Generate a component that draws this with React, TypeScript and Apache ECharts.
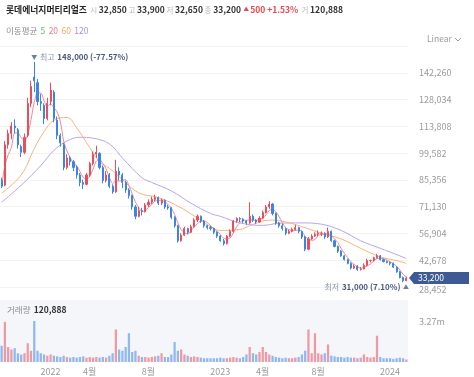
import React, { useEffect, useRef } from 'react';
import * as echarts from 'echarts';

// Weekly OHLC (KRW), first week starting 2021-09-20
const openP = [85000,82500,104000,110000,114000,112000,103000,100000,109000,126000,
140000,137000,127000,125000,118000,127000,132000,117000,109000,104000,
92000,97000,95000,92000,88000,84000,83000,88000,94000,99000,
99500,92000,85000,88000,82000,79000,90000,88000,84000,80000,
77000,71000,66000,69000,68500,72000,73500,75000,76000,73000,
74500,71000,70500,65500,61000,53000,56000,59500,57500,60500,
64000,66000,63500,61000,60000,59500,57500,55500,53000,51500,
55500,58000,63500,64800,64500,63500,62500,66000,64000,63000,
65000,68000,71000,72500,67500,62500,61000,59500,57000,58000,
59000,60000,58000,55000,48500,54000,55500,56500,57000,57000,
55000,58000,53000,50000,47500,45000,43000,41000,38500,39500,
37800,38000,40000,42500,42500,44000,45000,43000,42000,41500,
41000,39000,36500,33500,31800];
const highP = [86500,106000,112000,116000,117500,113000,104000,110000,129000,138000,
148000,139000,131000,126000,129000,137000,133000,119000,110000,105000,
99000,98000,96000,93000,89000,85500,89000,95000,100500,103500,
100000,93000,90000,89000,83000,96000,92000,89000,85000,81000,
77500,72000,71000,70500,73000,75000,76500,77500,76500,75500,
75000,72000,71000,66000,61500,57000,60500,60000,61500,65000,
67000,66500,64000,61500,61000,60000,58000,56000,54000,56000,
59000,64000,65500,65500,65000,64000,73500,67000,64500,66000,
69000,72000,74000,73000,68000,63000,62000,60000,59000,60000,
61500,60500,58500,55500,55000,56500,57500,58500,58000,57500,
60000,58500,53500,50500,48000,45500,43500,41500,40500,40000,
39000,41000,43500,43000,44500,46000,45500,43500,42500,42000,
41500,39500,37000,34000,33900];
const lowP = [81000,82000,102000,107000,110000,102000,97500,99000,108000,124000,
132000,125000,122000,115000,117000,125000,116000,107000,103000,90500,
91000,93000,90000,86000,82000,80500,82500,87000,93000,97000,
91000,83500,84000,81000,78000,78500,85000,81000,78500,75500,
69500,64500,65500,66500,68000,71000,72500,74000,72000,72000,
70000,69500,64500,60000,52000,52500,55500,56500,57000,60000,
63000,62500,60000,59000,58500,56500,54500,52500,50500,51000,
55000,57500,62500,63000,62500,61500,62000,63000,62000,62500,
64500,67500,70000,66500,61500,60000,58500,56000,56500,57500,
58500,57000,54000,47500,48000,53500,55000,55500,55500,54000,
54500,52500,49500,46500,44500,42500,40500,37800,38000,37000,
37200,37800,39500,41500,42000,43500,42500,41500,41000,40000,
38500,36000,33000,31000,31500];
const closeP = [82000,104000,110000,114000,113000,104000,100000,108000,126000,135000,
138000,127000,126000,118000,126000,133000,118000,109000,105000,92000,
97000,95000,92000,88000,84000,83000,88000,94000,99000,100000,
92000,85000,88000,82000,79000,90000,88000,84000,80000,77000,
71000,66000,69000,68500,72000,73500,75000,76000,73000,74500,
71000,70500,65500,61000,53000,56000,59500,57500,60500,64000,
66000,63500,61000,60000,59500,57500,55500,53000,51500,55500,
58000,63500,64800,64500,63500,62500,66000,64000,63000,65000,
68000,71000,72500,67500,62500,61000,59500,57000,58000,59000,
60000,58000,55000,48500,54000,55500,56500,57000,57000,55000,
58000,53000,50000,47500,45000,43000,41000,38500,39500,37800,
38000,40000,42500,42500,44000,45000,43000,42000,41500,41000,
39000,36500,33500,31800,33200];
const volumeV = [1300000,3200000,1200000,1000000,1100000,700000,600000,700000,1500000,900000,
3270000,900000,700000,600000,500000,600000,500000,450000,400000,500000,
400000,350000,400000,350000,400000,450000,350000,400000,350000,400000,
350000,400000,350000,500000,700000,2600000,1000000,900000,1200000,2300000,
800000,900000,500000,400000,400000,350000,400000,450000,500000,700000,
400000,400000,600000,1600000,900000,1000000,600000,500000,400000,450000,
400000,350000,300000,300000,300000,300000,300000,350000,300000,300000,
350000,400000,350000,300000,400000,600000,1200000,700000,600000,800000,
1200000,800000,600000,500000,400000,350000,300000,350000,300000,300000,
350000,400000,600000,900000,2600000,700000,2300000,700000,600000,700000,
1400000,500000,450000,400000,400000,350000,400000,350000,350000,300000,
350000,600000,400000,350000,400000,2100000,400000,300000,300000,300000,
250000,300000,350000,300000,200000];

// Moving-average readings (week index -> value)
const ma60Idx = [0,6,10,13,16,20,23,27,30,33,36,42,48,55,61,67,73,76,82,87,92,98,104,110,116,121,124];
const ma60Val = [78300,88000,102000,111000,117000,118500,113000,102500,95000,91500,87000,78500,76000,70500,64000,58500,59000,61000,64000,63000,60500,57000,54000,49000,44500,42500,41000];
const ma120Idx = [0,6,12,16,20,24,28,33,37,43,46,52,58,64,67,73,80,85,92,98,104,110,116,122,124];
const ma120Val = [73500,82500,93000,101000,106000,108000,107500,104500,97000,86500,84000,79500,73000,67500,66000,62500,61200,62300,62500,61800,58500,53000,49000,45000,43500];

// Price axis ticks
const priceStep = 14226;
const priceMin = 28452;
const priceMax = 156486;
const volMax = 4950000;
const volTick = 3270000;

// Header quote (last day)
const stockName = '롯데에너지머티리얼즈';
const dayOpen = 32850, dayHigh = 33900, dayLow = 32650, dayClose = 33200;
const dayChange = 500, dayChangePct = 1.53, dayVolume = 120888;

const START = Date.UTC(2021, 8, 20);
const DAY = 86400000;
const weeks = closeP.map((_, i) => {
  const d = new Date(START + i * 7 * DAY);
  return `${d.getUTCFullYear()}-${String(d.getUTCMonth() + 1).padStart(2, '0')}-${String(d.getUTCDate()).padStart(2, '0')}`;
});
const friMonth = (i: number) => new Date(START + (i * 7 + 4) * DAY);
const tickLabel = (i: number) => {
  if (i === 0) return '';
  const a = friMonth(i - 1), b = friMonth(i);
  if (a.getUTCMonth() === b.getUTCMonth()) return '';
  const m = b.getUTCMonth() + 1;
  if (m === 1) return String(b.getUTCFullYear());
  if (m === 4 || m === 8) return m + '월';
  return '';
};

const fmt = (v: number) => v.toLocaleString('en-US');
const UP = '#ea4d5c';
const DOWN = '#3a85ea';
const FONT = '"Noto Sans CJK KR", "Noto Sans", sans-serif';

export default function App() {
  const ref = useRef<HTMLDivElement>(null);
  useEffect(() => {
    if (!ref.current) return;
    const chart = echarts.init(ref.current, null, { renderer: 'svg' });
    const n = closeP.length;
    const candles = closeP.map((c, i) => [openP[i], c, lowP[i], highP[i]]);
    const ma20 = closeP.map((_, i) => {
      const s = Math.max(0, i - 3);
      const w = closeP.slice(s, i + 1);
      return Math.round(w.reduce((a, b) => a + b, 0) / w.length);
    });
    const sparse = (idx: number[], val: number[]) => {
      const arr: (number | null)[] = new Array(n).fill(null);
      idx.forEach((k, j) => { arr[k] = val[j]; });
      return arr;
    };
    let maxI = 0, minI = 0;
    highP.forEach((h, i) => { if (h > highP[maxI]) maxI = i; });
    lowP.forEach((l, i) => { if (l < lowP[minI]) minI = i; });
    const last = closeP[n - 1];
    const hiPct = ((last / highP[maxI] - 1) * 100).toFixed(2);
    const loPct = ((last / lowP[minI] - 1) * 100).toFixed(2);
    const markRich = {
      a: { fontSize: 6, color: '#6f7e9c', fontFamily: FONT },
      b: { fontSize: 8, color: '#8d97ab', fontFamily: FONT },
      c: { fontSize: 8, color: '#4a5b80', fontFamily: FONT, fontWeight: 'bold' },
    };
    const gray = '#b8b8b8';
    chart.setOption({
      animation: false,
      textStyle: { fontFamily: FONT },
      grid: [
        { left: 0, right: 66, top: 46, height: 241 },
        { left: 0, right: 66, top: 300, height: 62, show: true, backgroundColor: '#f5f6fa', borderWidth: 0 },
      ],
      xAxis: [
        { type: 'category', data: weeks, gridIndex: 0, boundaryGap: true, axisLabel: { show: false }, axisTick: { show: false }, axisLine: { show: false }, splitLine: { show: false } },
        {
          type: 'category', data: weeks, gridIndex: 1, boundaryGap: true,
          axisTick: { show: false }, axisLine: { show: false },
          axisLabel: {
            interval: (i: number) => tickLabel(i) !== '',
            formatter: (_v: string, i: number) => tickLabel(i),
            color: '#9a9a9a', fontSize: 9, margin: 5, fontFamily: FONT,
          },
        },
      ],
      yAxis: [
        {
          type: 'value', gridIndex: 0, position: 'right', min: priceMin, max: priceMax, interval: priceStep,
          axisLine: { show: false }, axisTick: { show: false },
          axisLabel: {
            color: '#9a9a9a', fontSize: 9, lineHeight: 9, margin: 11, showMaxLabel: false, fontFamily: FONT,
            formatter: (v: number) => (v === priceMin ? `{m|${fmt(v)}}` : fmt(v)),
            rich: { m: { color: '#9a9a9a', fontSize: 9, lineHeight: 9, padding: [5, 0, 0, 0], fontFamily: FONT } },
          },
          splitLine: { lineStyle: { color: '#f3f3f3', width: 1 } },
        },
        {
          type: 'value', gridIndex: 1, position: 'right', min: 0, max: volMax, interval: volTick,
          axisLine: { show: false }, axisTick: { show: false }, splitLine: { show: false },
          axisLabel: { color: '#9a9a9a', fontSize: 9, margin: 11, showMinLabel: false, showMaxLabel: false, formatter: (v: number) => (v / 1e6).toFixed(2) + 'm', fontFamily: FONT },
        },
      ],
      series: [
        {
          type: 'line', data: sparse(ma120Idx, ma120Val), connectNulls: true, smooth: 0.4, symbol: 'none',
          lineStyle: { color: '#b9a2f0', width: 1 }, z: 1,
        },
        {
          type: 'line', data: sparse(ma60Idx, ma60Val), connectNulls: true, smooth: 0.4, symbol: 'none',
          lineStyle: { color: '#f7b27a', width: 1 }, z: 1,
        },
        {
          type: 'line', data: ma20, smooth: 0.3, symbol: 'none',
          lineStyle: { color: '#f3868e', width: 1 }, z: 1,
        },
        {
          type: 'candlestick', data: candles, barMaxWidth: 2.6, z: 3,
          itemStyle: { color: UP, color0: DOWN, borderColor: UP, borderColor0: DOWN, borderWidth: 1 },
          markPoint: {
            symbol: 'circle', symbolSize: 0, silent: true,
            data: [
              {
                coord: [maxI, highP[maxI]],
                label: { show: true, position: [-3, -11], formatter: `{a|▼} {b|최고} {c|${fmt(highP[maxI])} (${hiPct}%)}`, rich: markRich },
              },
              {
                coord: [minI, lowP[minI]],
                label: { show: true, position: [6, -2], align: 'right', formatter: `{b|최저} {c|${fmt(lowP[minI])} (${loPct}%)} {a|▲}`, rich: markRich },
              },
            ],
          },
        },
        {
          type: 'bar', xAxisIndex: 1, yAxisIndex: 1, barMaxWidth: 2.4,
          data: volumeV.map((v, i) => ({ value: v, itemStyle: { color: closeP[i] >= openP[i] ? UP : DOWN, opacity: 0.55 } })),
        },
      ],
    });
    const py = chart.convertToPixel({ yAxisIndex: 0 }, last) as number;
    chart.setOption({
      graphic: {
        elements: [
          {
            type: 'text', left: 6, top: 5,
            style: {
              text: `{t|${stockName}}{l|  시 }{n|${fmt(dayOpen)}}{l| 고 }{n|${fmt(dayHigh)}}{l| 저 }{n|${fmt(dayLow)}}{l| 종 }{n|${fmt(dayClose)}}{s|  ▲ }{r|${dayChange} +${dayChangePct.toFixed(2)}%}{l|  거 }{n|${fmt(dayVolume)}}`,
              rich: {
                t: { fontSize: 8.8, fontWeight: 'bold', fill: '#222', fontFamily: FONT },
                l: { fontSize: 7.5, fill: gray, fontFamily: FONT },
                n: { fontSize: 8.5, fontWeight: 'bold', fill: '#333', fontFamily: FONT },
                s: { fontSize: 5.5, fill: '#e8474f', fontFamily: FONT },
                r: { fontSize: 8.5, fontWeight: 'bold', fill: '#e8474f', fontFamily: FONT },
              },
            },
          },
          {
            type: 'text', left: 6, top: 24,
            style: {
              text: '{l|이동평균} {g|5} {p|20} {o|60} {v|120}',
              rich: {
                l: { fontSize: 8.5, fill: '#8c8c8c', fontFamily: FONT },
                g: { fontSize: 8.5, fill: '#5cbf67', fontFamily: FONT },
                p: { fontSize: 8.5, fill: '#f27a83', fontFamily: FONT },
                o: { fontSize: 8.5, fill: '#f5a665', fontFamily: FONT },
                v: { fontSize: 8.5, fill: '#a98ef0', fontFamily: FONT },
              },
            },
          },
          { type: 'text', left: 427, top: 34, style: { text: 'Linear', fontSize: 8.5, fill: '#9a9a9a', fontFamily: FONT } },
          { type: 'polyline', shape: { points: [[455, 38], [458, 41], [461, 38]] }, style: { stroke: '#9a9a9a', lineWidth: 1, fill: 'none' } },
          {
            type: 'text', left: 7, top: 303,
            style: {
              text: `{l|거래량} {n|${fmt(dayVolume)}}`,
              rich: {
                l: { fontSize: 8.5, fill: '#8c8c8c', fontFamily: FONT },
                n: { fontSize: 8.5, fontWeight: 'bold', fill: '#333', fontFamily: FONT },
              },
            },
          },
          {
            type: 'group', x: 409, y: py, z: 100,
            children: [
              { type: 'polygon', shape: { points: [[0, 0], [5, -6], [60, -6], [60, 6], [5, 6]] }, style: { fill: '#3d5a94' } },
              { type: 'text', x: 9, y: -1, style: { text: fmt(last), fill: '#fff', fontSize: 8.5, lineHeight: 8.5, fontFamily: FONT, verticalAlign: 'middle' } },
            ],
          },
        ],
      },
    });
    return () => chart.dispose();
  }, []);
  return <div ref={ref} style={{ position: 'fixed', left: 0, top: 0, width: 474, height: 377 }} />;
}
